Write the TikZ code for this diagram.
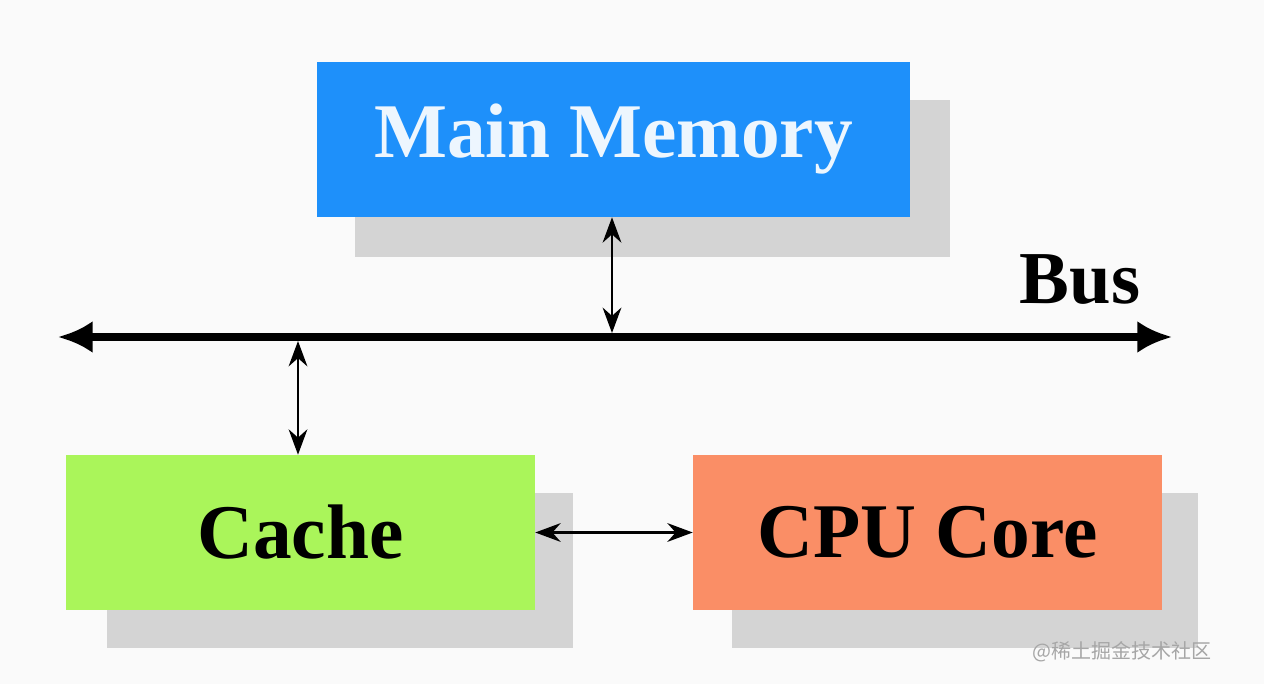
\documentclass[tikz,border=0pt]{standalone}
\usepackage{fontspec}
\setmainfont{Liberation Serif}
\newfontfamily\cjk{Noto Sans CJK SC}
\usetikzlibrary{arrows.meta}
\definecolor{mmblue}{RGB}{30,144,250}
\definecolor{cgreen}{RGB}{170,245,90}
\definecolor{corange}{RGB}{250,142,102}
\definecolor{shd}{RGB}{212,212,212}
\definecolor{bg}{RGB}{250,250,250}
\begin{document}
\begin{tikzpicture}[x=0.75pt,y=-0.75pt,
  box/.style={draw=none,inner sep=0},
  shadow/.style={fill=shd},
  lbl/.style={font=\bfseries\fontsize{58}{66}\selectfont},
  dbl/.style={line width=2.2pt,{Stealth[length=19pt,width=14pt]}-{Stealth[length=19pt,width=14pt]}}]
\fill[bg] (0,0) rectangle (1264,684);
\useasboundingbox (0,0) rectangle (1264,684);
% shadows
\fill[shadow] (355,100) rectangle (950,257);
\fill[shadow] (107,493) rectangle (573,648);
\fill[shadow] (732,493) rectangle (1198,648);
% boxes
\node[box,fill=mmblue,minimum width=444.75pt,minimum height=116.25pt,lbl,text=white!92!mmblue] (mm) at (613.5,139.5) {Main Memory};
\node[box,fill=cgreen,minimum width=351.75pt,minimum height=116.25pt,lbl] (cache) at (300.5,532.5) {Cache};
\node[box,fill=corange,minimum width=351.75pt,minimum height=116.25pt,lbl] (cpu) at (927.5,532.5) {CPU Core};
% bus
\coordinate (busL) at (58,337);
\coordinate (busR) at (1172,337);
\draw[line width=6pt,{Latex[length=26pt,width=24pt]}-{Latex[length=26pt,width=24pt]}] (busL) -- (busR);
\node[font=\bfseries\fontsize{56}{64}\selectfont] (bus) at (1080,280) {Bus};
\coordinate (b1) at (612,333);
\coordinate (b2) at (298,341);
\draw[dbl] (mm.south -| b1) -- (b1);
\draw[dbl] (b2) -- (cache.north -| b2);
\draw[dbl] (cache.east) -- (cpu.west);
\node[text=gray!70,font=\cjk\fontsize{15}{18}\selectfont] (wm) at (1122,652) {@稀土掘金技术社区};
\end{tikzpicture}
\end{document}
